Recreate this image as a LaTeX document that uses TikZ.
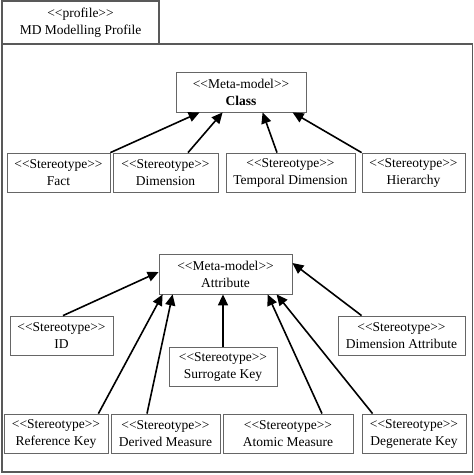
\documentclass[tikz,border=0pt]{standalone}
\usepackage{fontspec}
\setmainfont{Liberation Serif}
\usetikzlibrary{arrows.meta}
\newcommand\guil[1]{<\kern0pt<#1>\kern0pt>}
\tikzset{
  umlbox/.style={draw=black!60, line width=0.8pt, fill=white, align=center, inner sep=0pt,
    font=\fontsize{13.5}{17}\selectfont},
  ext/.style={line width=1.6pt, -{Triangle[length=11pt,width=10pt]}},
}
\begin{document}
\begin{tikzpicture}[x=1pt,y=-1pt]
\useasboundingbox (0,0) rectangle (474,475);
% package frame
\draw[black!65, line width=1.2pt] (2,44) rectangle (472.5,472);
\node[umlbox, draw=black!65, line width=1.2pt, minimum width=157pt, minimum height=43pt] (profile) at (80.5,22.5) {\guil{profile}\\MD Modelling Profile};
% meta-model Class
\node[umlbox, minimum width=130pt, minimum height=40pt] (class) at (241,92) {\guil{Meta-model}\\\textbf{Class}};
\node[umlbox, minimum width=103pt, minimum height=39pt] (fact) at (58.5,172.5) {\guil{Stereotype}\\Fact};
\node[umlbox, minimum width=105pt, minimum height=39pt] (dimension) at (165.5,172.5) {\guil{Stereotype}\\Dimension};
\node[umlbox, minimum width=129pt, minimum height=39pt] (temporal) at (290.5,172.5) {\guil{Stereotype}\\Temporal Dimension};
\node[umlbox, minimum width=103pt, minimum height=39pt] (hierarchy) at (413.5,172.5) {\guil{Stereotype}\\Hierarchy};
\draw[ext] (fact.north east) -- ([xshift=24pt]class.south west);
\draw[ext] ([xshift=22.5pt]dimension.north) -- ([xshift=47pt]class.south west);
\draw[ext] ([xshift=-13.5pt]temporal.north) -- ([xshift=87pt]class.south west);
\draw[ext] (hierarchy.north west) -- ([xshift=117pt]class.south west);
% meta-model Attribute
\node[umlbox, minimum width=133pt, minimum height=40pt] (attribute) at (225.5,274) {\guil{Meta-model}\\Attribute};
\node[umlbox, minimum width=103pt, minimum height=39pt] (id) at (61.5,335.5) {\guil{Stereotype}\\ID};
\node[umlbox, minimum width=127pt, minimum height=39pt] (dimattr) at (401.5,335.5) {\guil{Stereotype}\\Dimension Attribute};
\node[umlbox, minimum width=108pt, minimum height=39pt] (surrogate) at (223,366.5) {\guil{Stereotype}\\Surrogate Key};
\node[umlbox, minimum width=104pt, minimum height=39pt] (refkey) at (56,433.5) {\guil{Stereotype}\\Reference Key};
\node[umlbox, minimum width=109pt, minimum height=39pt] (derived) at (165.5,433.5) {\guil{Stereotype}\\Derived Measure};
\node[umlbox, minimum width=130pt, minimum height=39pt] (atomic) at (288,433.5) {\guil{Stereotype}\\Atomic Measure};
\node[umlbox, minimum width=104pt, minimum height=39pt] (degenerate) at (414,433.5) {\guil{Stereotype}\\Degenerate Key};
\draw[ext] ([xshift=1.5pt]id.north) -- ([yshift=2pt]attribute.west);
\draw[ext] ([xshift=24pt]dimattr.north west) -- ([yshift=11pt]attribute.east);
\draw[ext] (surrogate.north) -- (surrogate.north |- attribute.south);
\draw[ext] ([xshift=-10pt]refkey.north east) -- ([xshift=4pt]attribute.south west);
\draw[ext] ([xshift=-18.5pt]derived.north) -- ([xshift=14pt]attribute.south west);
\draw[ext] ([xshift=34pt]atomic.north) -- ([xshift=109pt]attribute.south west);
\draw[ext] ([xshift=11pt]degenerate.north west) -- ([xshift=118pt]attribute.south west);
\end{tikzpicture}
\end{document}
